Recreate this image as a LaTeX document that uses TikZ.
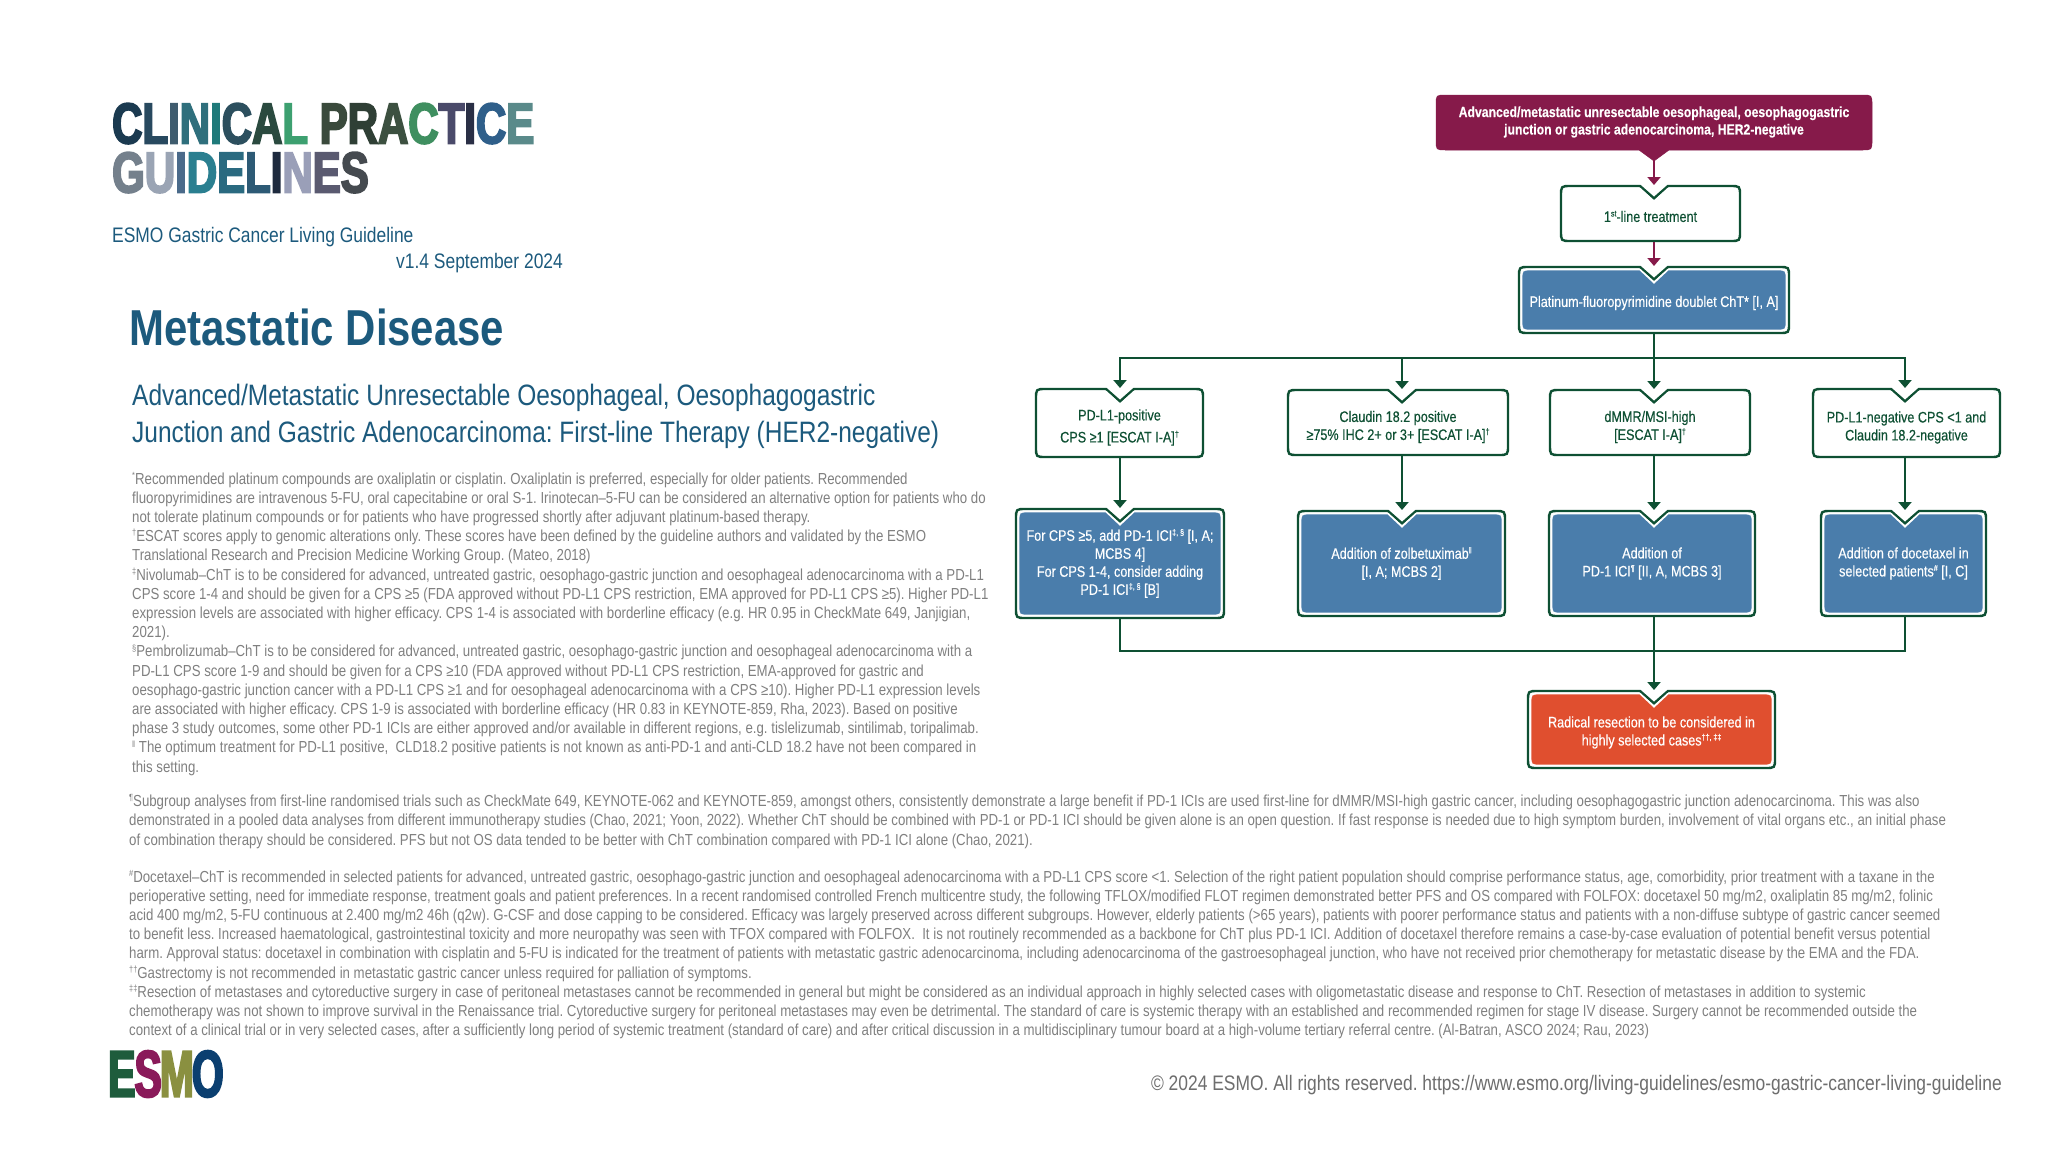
\documentclass[tikz,border=0pt]{standalone}
\usepackage{fontspec}
\usepackage{graphicx}
\usetikzlibrary{arrows.meta}
\setmainfont[FakeStretch=0.83]{Liberation Sans}
\newfontfamily\boxfont[FakeStretch=0.83,FakeBold=0.35]{Liberation Sans}
\newfontfamily\logofont[FakeStretch=0.73,FakeBold=3.2]{Liberation Sans Bold}
\newfontfamily\esmofont[FakeStretch=0.62,FakeBold=3]{Liberation Sans Bold}
\definecolor{esgreen}{HTML}{0E5033}
\definecolor{esmag}{HTML}{861A4A}
\definecolor{esblue}{HTML}{4A7DAB}
\definecolor{esred}{HTML}{E04F2F}
\definecolor{estitle}{HTML}{1C5A7D}
\definecolor{esnote}{HTML}{808080}
\definecolor{escopy}{HTML}{6E6E6E}
\newcommand{\su}[1]{\raisebox{0.36em}{\scalebox{0.56}{#1}}}
\newcommand{\lc}[2]{\textcolor[HTML]{#1}{#2}}
\tikzset{
  boxtext/.style={inner sep=0pt,align=center,font=\boxfont\fontsize{15.2}{18}\selectfont},
  notes/.style={inner sep=0pt,align=left,anchor=north west,text=esnote,font=\frenchspacing\fontsize{15.95}{19.2}\selectfont},
  magline/.style={draw=esmag,line width=1.8pt,-{Triangle[width=13pt,length=8pt]}},
  grnline/.style={draw=esgreen,line width=2.2pt},
  grnarrow/.style={grnline,-{Triangle[width=13pt,length=8pt]}},
  heading/.style={inner sep=0pt,anchor=west,text=estitle},
}
% #1 name, #2 left, #3 top, #4 right, #5 bottom, #6 notch x, #7 fill, #8 text colour, #9 text
\def\boxpath#1{({\bl+#1},{\bt+#1+10}) .. controls ({\bl+#1},{\bt+#1}) .. ({\bl+#1+10},{\bt+#1}) -- ({\bn-\bw},{\bt+#1}) -- (\bn,{\bt+\bd+1.3*#1}) -- ({\bn+\bw},{\bt+#1}) -- ({\br-#1-10},{\bt+#1}) .. controls ({\br-#1},{\bt+#1}) .. ({\br-#1},{\bt+#1+10}) -- ({\br-#1},{\bb-#1-10}) .. controls ({\br-#1},{\bb-#1}) .. ({\br-#1-10},{\bb-#1}) -- ({\bl+#1+10},{\bb-#1}) .. controls ({\bl+#1},{\bb-#1}) .. ({\bl+#1},{\bb-#1-10}) -- cycle}
\def\tdrop{3}
\newcommand{\flowbox}[9]{%
  \def\bl{#2}\def\bt{#3}\def\br{#4}\def\bb{#5}\def\bn{#6}\def\bw{14}\def\bd{12}%
  \draw[esgreen,line width=2.4pt,fill=white] \boxpath{1};
  \fill[#7,draw=white,line width=1.6pt] \boxpath{3.6};
  \node[boxtext,text=#8,minimum width=#4pt-#2pt,minimum height=#5pt-#3pt,yshift=-\tdrop pt] (#1) at ({(#2+#4)/2},{(#3+#5)/2}) {#9};
  \coordinate (#1-in) at (#6,#3);
  \coordinate (#1-out) at (#6,#5);
}
\begin{document}
\begin{tikzpicture}[x=1pt,y=-1pt]
\useasboundingbox (0,0) rectangle (2048,1152);
\fill[white] (0,0) rectangle (2048,1152);

% logo
\node[inner sep=0pt,anchor=north west,align=left,font=\logofont\fontsize{57.5}{49}\selectfont] (logo) at (112,103) {\lc{1B3A50}{C}\lc{28495F}{L}\lc{3F5C6E}{I}\lc{2F6F7C}{N}\lc{1F7A7A}{I}\lc{2C4F5E}{C}\lc{2A4A3F}{A}\lc{3DA070}{L} \lc{3A4A3C}{P}\lc{2F3F35}{R}\lc{3C5040}{A}\lc{3F8F60}{C}\lc{4A4A6A}{T}\lc{2A2F45}{I}\lc{2F5F8A}{C}\lc{5A8A8A}{E}\\\lc{74808C}{G}\lc{9AA4B4}{U}\lc{4A6A8A}{I}\lc{2A7F90}{D}\lc{2A6A80}{E}\lc{2D5A75}{L}\lc{1E2A3E}{I}\lc{9A9FB8}{N}\lc{5A5A70}{E}\lc{454A4F}{S}};

\node[heading,font=\fontsize{21}{24}\selectfont] (guide) at (112,237.5) {ESMO Gastric Cancer Living Guideline};
\node[heading,font=\fontsize{21}{24}\selectfont] (version) at (396,263) {v1.4 September 2024};
\node[heading,font=\bfseries\fontsize{50.5}{54}\selectfont] (title) at (129,327) {Metastatic Disease};
\node[heading,font=\frenchspacing\fontsize{29.5}{36.5}\selectfont,align=left] (subtitle) at (132,416.5) {Advanced/Metastatic Unresectable Oesophageal, Oesophagogastric\\Junction and Gastric Adenocarcinoma: First-line Therapy (HER2-negative)};

% left notes
\node[notes] (notesa) at (132,472) {\su{*}Recommended platinum compounds are oxaliplatin or cisplatin. Oxaliplatin is preferred, especially for older patients. Recommended\\
fluoropyrimidines are intravenous 5-FU, oral capecitabine or oral S-1. Irinotecan–5-FU can be considered an alternative option for patients who do\\
not tolerate platinum compounds or for patients who have progressed shortly after adjuvant platinum-based therapy.\\
\su{†}ESCAT scores apply to genomic alterations only. These scores have been defined by the guideline authors and validated by the ESMO\\
Translational Research and Precision Medicine Working Group. (Mateo, 2018)\\
\su{‡}Nivolumab–ChT is to be considered for advanced, untreated gastric, oesophago-gastric junction and oesophageal adenocarcinoma with a PD-L1\\
CPS score 1-4 and should be given for a CPS ≥5 (FDA approved without PD-L1 CPS restriction, EMA approved for PD-L1 CPS ≥5). Higher PD-L1\\
expression levels are associated with higher efficacy. CPS 1-4 is associated with borderline efficacy (e.g. HR 0.95 in CheckMate 649, Janjigian,\\
2021).\\
\su{§}Pembrolizumab–ChT is to be considered for advanced, untreated gastric, oesophago-gastric junction and oesophageal adenocarcinoma with a\\
PD-L1 CPS score 1-9 and should be given for a CPS ≥10 (FDA approved without PD-L1 CPS restriction, EMA-approved for gastric and\\
oesophago-gastric junction cancer with a PD-L1 CPS ≥1 and for oesophageal adenocarcinoma with a CPS ≥10). Higher PD-L1 expression levels\\
are associated with higher efficacy. CPS 1-9 is associated with borderline efficacy (HR 0.83 in KEYNOTE-859, Rha, 2023). Based on positive\\
phase 3 study outcomes, some other PD-1 ICIs are either approved and/or available in different regions, e.g. tislelizumab, sintilimab, toripalimab.\\
\su{‖} The optimum treatment for PD-L1 positive,~ CLD18.2 positive patients is not known as anti-PD-1 and anti-CLD 18.2 have not been compared in\\
this setting.};

% lower notes
\node[notes] (notesb) at (129,794.5) {\su{¶}Subgroup analyses from first-line randomised trials such as CheckMate 649, KEYNOTE-062 and KEYNOTE-859, amongst others, consistently demonstrate a large benefit if PD-1 ICIs are used first-line for dMMR/MSI-high gastric cancer, including oesophagogastric junction adenocarcinoma. This was also\\
demonstrated in a pooled data analyses from different immunotherapy studies (Chao, 2021; Yoon, 2022). Whether ChT should be combined with PD-1 or PD-1 ICI should be given alone is an open question. If fast response is needed due to high symptom burden, involvement of vital organs etc., an initial phase\\
of combination therapy should be considered. PFS but not OS data tended to be better with ChT combination compared with PD-1 ICI alone (Chao, 2021).};

\node[notes] (notesc) at (129,870) {\su{\#}Docetaxel–ChT is recommended in selected patients for advanced, untreated gastric, oesophago-gastric junction and oesophageal adenocarcinoma with a PD-L1 CPS score <1. Selection of the right patient population should comprise performance status, age, comorbidity, prior treatment with a taxane in the\\
perioperative setting, need for immediate response, treatment goals and patient preferences. In a recent randomised controlled French multicentre study, the following TFLOX/modified FLOT regimen demonstrated better PFS and OS compared with FOLFOX: docetaxel 50 mg/m2, oxaliplatin 85 mg/m2, folinic\\
acid 400 mg/m2, 5-FU continuous at 2.400 mg/m2 46h (q2w). G-CSF and dose capping to be considered. Efficacy was largely preserved across different subgroups. However, elderly patients (>65 years), patients with poorer performance status and patients with a non-diffuse subtype of gastric cancer seemed\\
to benefit less. Increased haematological, gastrointestinal toxicity and more neuropathy was seen with TFOX compared with FOLFOX.~ It is not routinely recommended as a backbone for ChT plus PD-1 ICI. Addition of docetaxel therefore remains a case-by-case evaluation of potential benefit versus potential\\
harm. Approval status: docetaxel in combination with cisplatin and 5-FU is indicated for the treatment of patients with metastatic gastric adenocarcinoma, including adenocarcinoma of the gastroesophageal junction, who have not received prior chemotherapy for metastatic disease by the EMA and the FDA.\\
\su{††}Gastrectomy is not recommended in metastatic gastric cancer unless required for palliation of symptoms.\\
\su{‡‡}Resection of metastases and cytoreductive surgery in case of peritoneal metastases cannot be recommended in general but might be considered as an individual approach in highly selected cases with oligometastatic disease and response to ChT. Resection of metastases in addition to systemic\\
chemotherapy was not shown to improve survival in the Renaissance trial. Cytoreductive surgery for peritoneal metastases may even be detrimental. The standard of care is systemic therapy with an established and recommended regimen for stage IV disease. Surgery cannot be recommended outside the\\
context of a clinical trial or in very selected cases, after a sufficiently long period of systemic treatment (standard of care) and after critical discussion in a multidisciplinary tumour board at a high-volume tertiary referral centre. (Al-Batran, ASCO 2024; Rau, 2023)};

% ESMO logo and copyright
\node[inner sep=0pt,anchor=west,font=\esmofont\fontsize{66}{66}\selectfont] (esmo) at (108,1074) {\lc{1E5C3C}{E}\kern-1pt\lc{8A1A5A}{S}\kern-2pt\lc{8A9040}{M}\kern-2pt\lc{0B3F70}{O}};
\node[inner sep=0pt,anchor=east,text=escopy,font=\frenchspacing\fontsize{21}{24}\selectfont] (copy) at (2002,1085) {© 2024 ESMO. All rights reserved. https://www.esmo.org/living-guidelines/esmo-gastric-cancer-living-guideline};

% top box with pointer
\draw[esmag,fill=esmag,line width=0.5pt] (1436,105) .. controls (1436,95) .. (1446,95) -- (1862,95) .. controls (1872,95) .. (1872,105) -- (1872,140) .. controls (1872,150) .. (1862,150) -- (1669,150) -- (1654,161) -- (1639,150) -- (1446,150) .. controls (1436,150) .. (1436,140) -- cycle;
\node[boxtext,text=white,font=\boxfont\bfseries\fontsize{14.7}{17.4}\selectfont,minimum width=436pt,minimum height=55pt] (start) at (1654,122) {Advanced/metastatic unresectable oesophageal, oesophagogastric\\junction or gastric adenocarcinoma, HER2-negative};
\coordinate (start-out) at (1654,160);

\flowbox{first}{1560}{185}{1741}{242}{1654}{white}{esgreen}{1\su{st}-line treatment}
\flowbox{plat}{1518}{266}{1790}{334}{1654}{esblue}{white}{Platinum-fluoropyrimidine doublet ChT* [I, A]}

\def\tdrop{4.5}
\flowbox{pdlpos}{1035}{388}{1204}{458}{1120}{white}{esgreen}{PD-L1-positive\\[4pt] CPS ≥1 [ESCAT I-A]\su{†}}
\flowbox{claud}{1287}{389}{1509}{456}{1402}{white}{esgreen}{Claudin 18.2 positive\\≥75\% IHC 2+ or 3+ [ESCAT I-A]\su{†}}
\flowbox{dmmr}{1549}{389}{1751}{456}{1654}{white}{esgreen}{dMMR/MSI-high\\{[ESCAT I-A]}\su{†}}
\flowbox{pdlneg}{1812}{388}{2001}{458}{1905}{white}{esgreen}{PD-L1-negative CPS <1 and\\Claudin 18.2-negative}

\def\tdrop{0}
\flowbox{addpd}{1015}{508}{1225}{619}{1120}{esblue}{white}{For CPS ≥5, add PD-1 ICI\su{‡, §} [I, A;\\MCBS 4]\\For CPS 1-4, consider adding\\PD-1 ICI\su{‡, §} [B]}
\flowbox{addzol}{1297}{510}{1506}{617}{1402}{esblue}{white}{Addition of zolbetuximab\su{‖}\\{[I, A; MCBS 2]}}
\flowbox{addici}{1548}{510}{1756}{617}{1654}{esblue}{white}{Addition of\\PD-1 ICI\su{¶} [II, A, MCBS 3]}
\flowbox{adddoc}{1820}{510}{1987}{617}{1905}{esblue}{white}{Addition of docetaxel in\\selected patients\su{\#} [I, C]}

\def\tdrop{3}
\flowbox{radical}{1527}{690}{1776}{769}{1654}{esred}{white}{Radical resection to be considered in\\highly selected cases\su{††, ‡‡}}

% connectors
\draw[magline] (start-out) -- (first-in);
\draw[magline] (first-out) -- (plat-in);
\draw[grnarrow] (plat-out) -- ++(0,24) -| (pdlpos-in);
\draw[grnarrow] (plat-out) -- ++(0,24) -| (claud-in);
\draw[grnarrow] (plat-out) -- (dmmr-in);
\draw[grnarrow] (plat-out) -- ++(0,24) -| (pdlneg-in);
\draw[grnarrow] (pdlpos-out) -- (addpd-in);
\draw[grnarrow] (claud-out) -- (addzol-in);
\draw[grnarrow] (dmmr-out) -- (addici-in);
\draw[grnarrow] (pdlneg-out) -- (adddoc-in);
\coordinate (merge) at (1654,651);
\draw[grnline] (addpd-out) |- (merge);
\draw[grnline] (adddoc-out) |- (merge);
\draw[grnarrow] (addici-out) -- (radical-in);
\end{tikzpicture}
\end{document}
